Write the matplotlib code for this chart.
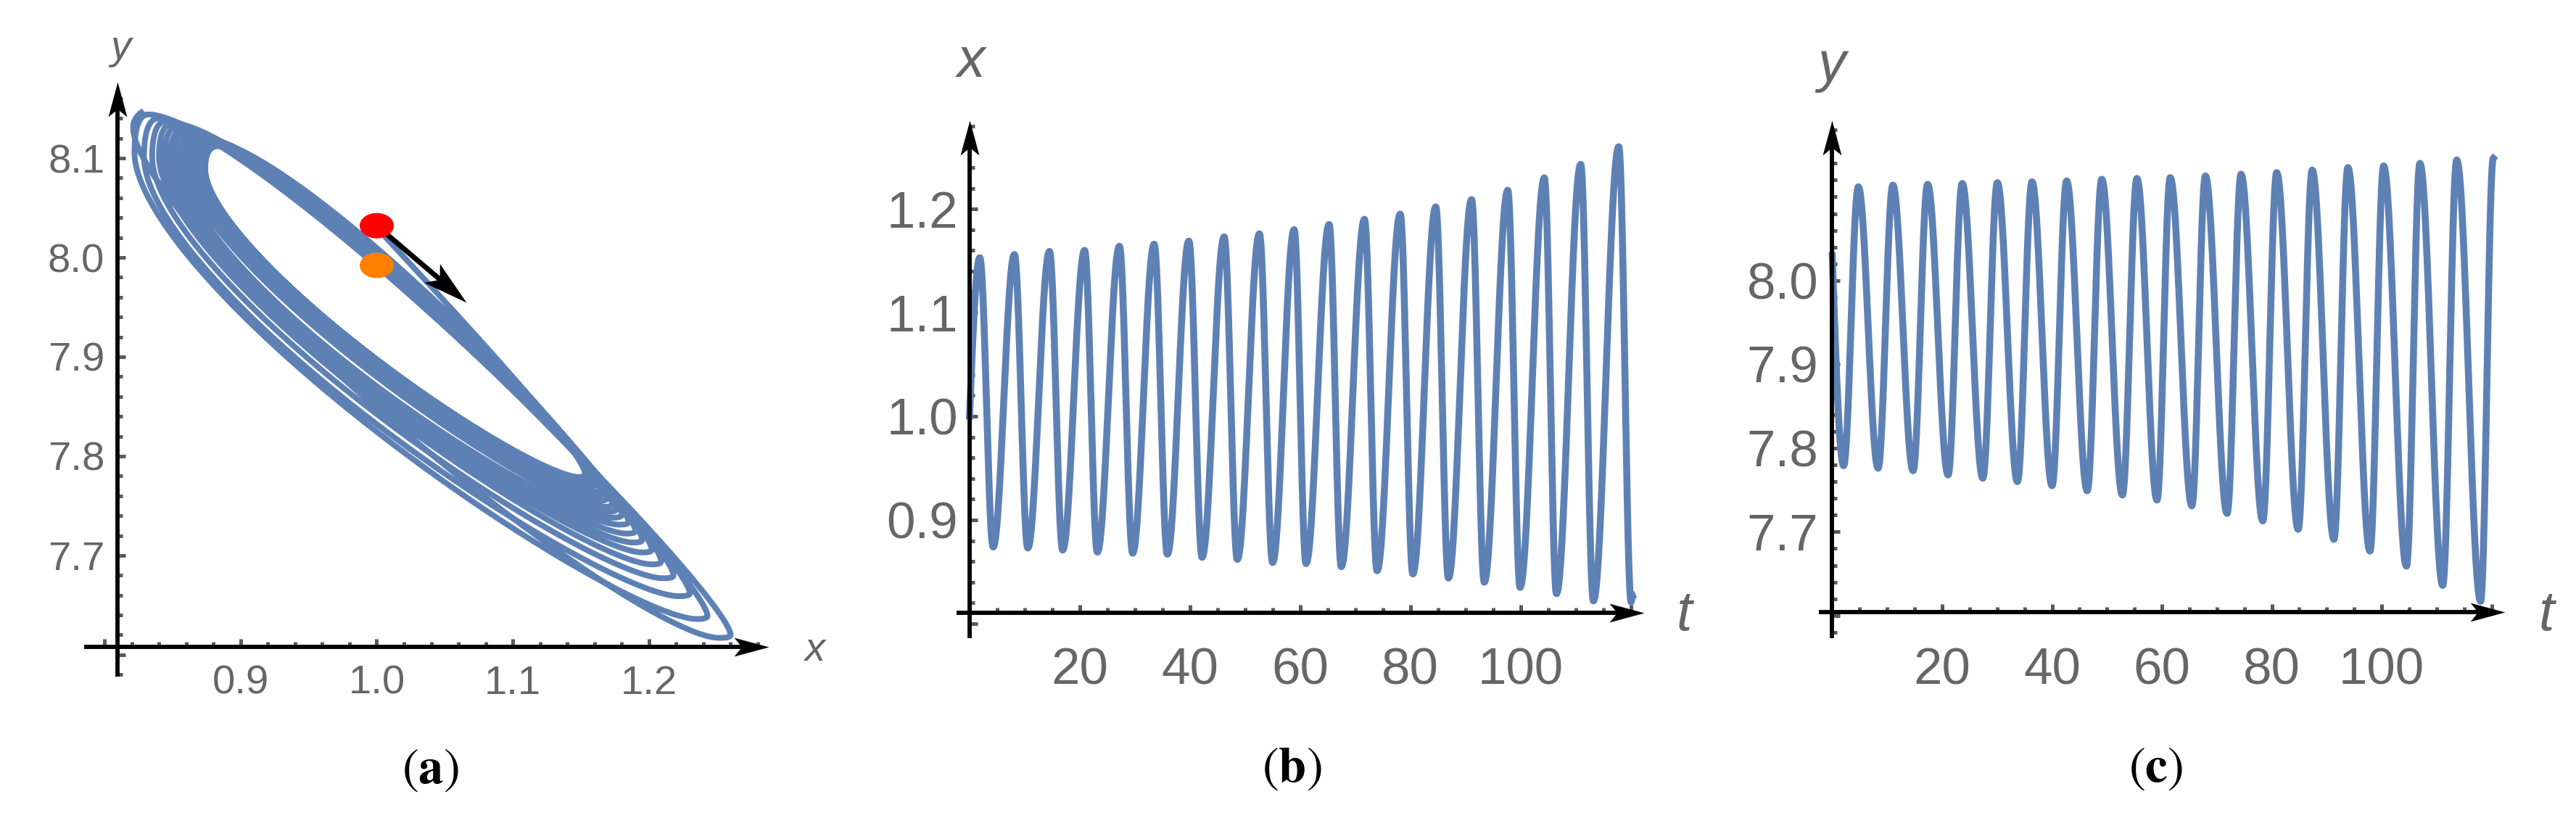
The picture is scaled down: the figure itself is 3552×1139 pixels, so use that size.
import numpy as np
import matplotlib.pyplot as plt
from matplotlib.path import Path
from matplotlib.patches import Ellipse
from matplotlib.ticker import FixedLocator, FixedFormatter

# ---- data ----
# x(t): start value, then alternating peaks / troughs (panel b)
x_t = [0.0, 1.86, 4.29, 8.14, 10.58, 14.51, 16.9, 20.88, 23.2, 27.2, 29.6,
       33.5, 35.9, 39.8, 42.2, 46.2, 48.6, 52.6, 55.0, 58.9, 61.06, 65.25,
       67.46, 71.66, 73.95, 78.15, 80.44, 84.6, 86.9, 91.1, 93.4, 97.66,
       99.9, 104.3, 106.5, 110.9, 113.2, 117.8, 120.05, 120.3]
x_v = [1.0, 1.153, 0.874, 1.156, 0.873, 1.159, 0.871, 1.160, 0.869, 1.164,
       0.868, 1.166, 0.867, 1.169, 0.864, 1.173, 0.862, 1.176, 0.859, 1.180,
       0.858, 1.185, 0.855, 1.190, 0.851, 1.195, 0.848, 1.202, 0.844, 1.209,
       0.840, 1.218, 0.835, 1.230, 0.829, 1.243, 0.822, 1.260, 0.821, 0.827]

# y(t): start value, then alternating troughs / peaks (panel c)
y_t = [0.0, 2.06, 4.74, 8.34, 11.03, 14.71, 17.35, 21.08, 23.65, 27.4, 30.05,
       33.7, 36.35, 40.0, 42.65, 46.4, 49.05, 52.8, 55.45, 59.1, 61.51, 65.45,
       67.91, 71.86, 74.4, 78.35, 80.89, 84.8, 87.35, 91.3, 93.85, 97.86,
       100.35, 104.5, 106.95, 111.1, 113.65, 118.0, 120.3]
y_v = [8.030, 7.779, 8.112, 7.776, 8.114, 7.773, 8.115, 7.768, 8.116, 7.764,
       8.117, 7.760, 8.118, 7.755, 8.119, 7.749, 8.121, 7.744, 8.122, 7.738,
       8.123, 7.731, 8.125, 7.722, 8.127, 7.713, 8.129, 7.703, 8.132, 7.691,
       8.135, 7.677, 8.137, 7.659, 8.140, 7.636, 8.144, 7.617, 8.146]

t_end = 120.3
equilibrium = (1.0, 7.992)
initial = (1.0, 8.032)
arrow_tip = (1.066, 7.955)

BLUE = '#5E81B5'
GRAY = '#666666'
TICK_C = '#5a5a5a'

plt.rcParams['font.family'] = ['Liberation Sans', 'DejaVu Sans']
plt.rcParams['mathtext.fontset'] = 'stix'

W, H = 3552, 1139
fig = plt.figure(figsize=(W / 300, H / 300), dpi=300)


def smooth_through(tk, vk, t):
    # smooth path through the read extrema (flat at every extremum)
    tk = np.asarray(tk)
    vk = np.asarray(vk)
    i = np.clip(np.searchsorted(tk, t, side='right') - 1, 0, len(tk) - 2)
    s = (t - tk[i]) / (tk[i + 1] - tk[i])
    w = 0.5 - 0.5 * np.cos(np.pi * s)
    first = i == 0
    w[first] = np.sin(0.5 * np.pi * s[first])
    return vk[i] + (vk[i + 1] - vk[i]) * w


t = np.linspace(0, t_end, 12000)
xs = smooth_through(x_t, x_v, t)
ys = smooth_through(y_t, y_v, t)


def place(left, top, right, bottom):
    return fig.add_axes([left / W, 1 - bottom / H, (right - left) / W,
                         (bottom - top) / H])


def px_scale(ax):
    bb = ax.get_position()
    x0, x1 = ax.get_xlim()
    y0, y1 = ax.get_ylim()
    return bb.width * W / (x1 - x0), bb.height * H / (y1 - y0)


HEAD = np.array([(0, 0), (-1, 0.27), (-0.78, 0), (-1, -0.27), (0, 0)])


def head(ax, x, y, angle, size):
    a = np.deg2rad(angle)
    rot = np.array([[np.cos(a), -np.sin(a)], [np.sin(a), np.cos(a)]])
    verts = HEAD @ rot.T
    m = np.abs(verts).max()
    path = Path(verts, [Path.MOVETO, Path.LINETO, Path.LINETO,
                        Path.LINETO, Path.CLOSEPOLY])
    ax.plot(x, y, marker=path, ms=size * m, color='k', mew=0,
            clip_on=False, zorder=6)


def frame(ax, xc, yc, xmaj, xlab, xmin, ymaj, ylab, ymin, fs, xpad, ypad):
    x0, x1 = ax.get_xlim()
    y0, y1 = ax.get_ylim()
    sx, sy = px_scale(ax)
    ax.plot([x0, x1 - 30 / sx], [yc, yc], color='k', lw=1.4,
            solid_capstyle='butt', clip_on=False, zorder=5)
    ax.plot([xc, xc], [y0, y1 - 30 / sy], color='k', lw=1.4,
            solid_capstyle='butt', clip_on=False, zorder=5)
    head(ax, x1, yc, 0, 23)
    head(ax, xc, y1, 90, 23)
    for s in ax.spines.values():
        s.set_visible(False)
    ax.spines['left'].set_position(('data', xc))
    ax.spines['bottom'].set_position(('data', yc))
    ax.xaxis.set_major_locator(FixedLocator(xmaj))
    ax.xaxis.set_major_formatter(FixedFormatter(xlab))
    ax.xaxis.set_minor_locator(FixedLocator(xmin))
    ax.yaxis.set_major_locator(FixedLocator(ymaj))
    ax.yaxis.set_major_formatter(FixedFormatter(ylab))
    ax.yaxis.set_minor_locator(FixedLocator(ymin))
    ax.tick_params(which='both', direction='in', color=TICK_C, width=1.2,
                   labelcolor=GRAY, labelsize=fs)
    ax.tick_params(which='major', length=2.7)
    ax.tick_params(which='minor', length=1.6)
    ax.tick_params(axis='x', pad=xpad)
    ax.tick_params(axis='y', pad=ypad)
    ax.patch.set_visible(False)


def label(x, y, s, fs):
    fig.text(x / W, 1 - y / H, s, ha='center', va='center', fontsize=fs,
             style='italic', color=GRAY)


# ---- (a) phase plane ----
axa = place(116, 112.6, 1060, 933)
axa.set_xlim(0.785, 1.288)
axa.set_ylim(7.578, 8.177)
axa.plot(xs, ys, color=BLUE, lw=1.9, zorder=2)
frame(axa, 0.8096, 7.608,
      [0.8, 0.9, 1.0, 1.1, 1.2], ['', '0.9', '1.0', '1.1', '1.2'],
      np.arange(0.78, 1.281, 0.02),
      [7.6, 7.7, 7.8, 7.9, 8.0, 8.1], ['', '7.7', '7.8', '7.9', '8.0', '8.1'],
      np.arange(7.58, 8.17, 0.02), 13.5, 6, 4.3)
sx, sy = px_scale(axa)
dxp = (arrow_tip[0] - initial[0]) * sx
dyp = (arrow_tip[1] - initial[1]) * sy
ang = np.degrees(np.arctan2(dyp, dxp))
back = 40 / np.hypot(dxp, dyp)
axa.plot([initial[0], arrow_tip[0] - back * (arrow_tip[0] - initial[0])],
         [initial[1], arrow_tip[1] - back * (arrow_tip[1] - initial[1])],
         color='k', lw=1.7, solid_capstyle='butt', zorder=5)
head(axa, arrow_tip[0], arrow_tip[1], ang, 30)
axa.add_patch(Ellipse(initial, 47 / sx, 35 / sy, color='#FF0000', lw=0,
                      zorder=7))
axa.add_patch(Ellipse(equilibrium, 47 / sx, 35 / sy, color='#FF8000', lw=0,
                      zorder=7))
label(166, 67, 'y', 13.5)
label(1123, 897, 'x', 13.5)
fig.text(593 / W, 1 - 1062 / H, r'$(\mathbf{a})$', ha='center', va='center',
         fontsize=16.5)

# ---- (b) x(t) ----
t_major = [0, 20, 40, 60, 80, 100, 120]
t_labels = ['', '20', '40', '60', '80', '100', '']
t_minor = np.arange(0, 121, 5)

axb = place(1318.6, 165.6, 2267, 880)
axb.set_xlim(-2.4, 122.4)
axb.set_ylim(0.786, 1.2857)
axb.plot(t, xs, color=BLUE, lw=2.3, zorder=2)
frame(axb, 0, 0.8106, t_major, t_labels, t_minor,
      [0.8, 0.9, 1.0, 1.1, 1.2], ['', '0.9', '1.0', '1.1', '1.2'],
      np.arange(0.78, 1.281, 0.02), 17, 11.5, 3.8)
label(1338, 85, 'x', 18.5)
label(2322, 848, 't', 18.5)
fig.text(1781 / W, 1 - 1060 / H, r'$(\mathbf{b})$', ha='center', va='center',
         fontsize=16.5)

# ---- (c) y(t) ----
axc = place(2508.3, 165.6, 3453.8, 880)
axc.set_xlim(-2.4, 122.4)
axc.set_ylim(7.573, 8.1917)
axc.plot(t, ys, color=BLUE, lw=2.3, zorder=2)
frame(axc, 0, 7.6038, t_major, t_labels, t_minor,
      [7.6, 7.7, 7.8, 7.9, 8.0], ['', '7.7', '7.8', '7.9', '8.0'],
      np.arange(7.58, 8.181, 0.02), 17, 11.5, 4.6)
label(2526, 92, 'y', 18.5)
label(3511, 848, 't', 18.5)
fig.text(2972 / W, 1 - 1060 / H, r'$(\mathbf{c})$', ha='center', va='center',
         fontsize=16.5)

fig.savefig('out.png', dpi=300)
